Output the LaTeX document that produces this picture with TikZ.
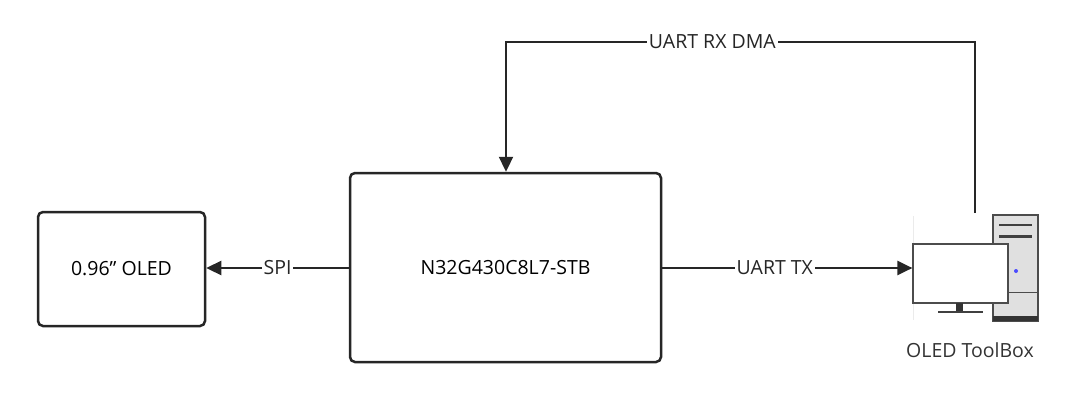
\documentclass[tikz,border=0pt]{standalone}
\usepackage{fontspec}
\setmainfont{Open Sans}
\usetikzlibrary{arrows.meta}
\begin{document}
\begin{tikzpicture}[x=1pt,y=-1pt,
  blk/.style={draw=black!85,line width=2.5pt,rounded corners=5pt,inner sep=0pt},
  conn/.style={draw=black!85,line width=2.3pt,-{Triangle[length=15pt,width=14pt]}},
  lbl/.style={fill=white,inner sep=2pt,font=\fontsize{19.5}{22}\selectfont,text=black!85}]
\useasboundingbox (0,0) rectangle (1080,405);
\node[blk,minimum width=167pt,minimum height=114pt,font=\fontsize{19.5}{22}\selectfont] (oled) at (121.5,269) {0.96\symbol{34} OLED};
\node[blk,minimum width=311pt,minimum height=189pt,font=\fontsize{19.5}{22}\selectfont] (mcu) at (505.5,267.5) {N32G430C8L7-STB};
% computer icon
\draw[fill=black!12,draw=black!70,line width=1.2pt] (993,215) rectangle (1038,321);
\fill[black!80] (993,316) rectangle (1038,321);
\draw[black!70,line width=1pt] (993,292) -- (1038,292);
\draw[black!75,line width=2pt] (999,225) -- (1032,225);
\draw[black!75,line width=3pt] (999,236) -- (1032,236);
\fill[blue!70] (1016,271) circle (2pt);
\draw[black!8,line width=0.6pt] (913,216) -- (913,320);
\node[draw=black!70,fill=white,line width=1.2pt,minimum width=95pt,minimum height=59pt,inner sep=0pt] (mon) at (960.5,273.5) {};
\fill[black!80] (956,303) rectangle (963,311);
\draw[black!75,line width=2pt] (938,312) -- (983,312);
\coordinate (tw) at (975,213);
\node[font=\fontsize{19.5}{22}\selectfont,text=black!80] (tb) at (970,350) {OLED ToolBox};
\draw[conn] (mcu.west |- 0,268) -- node[lbl]{SPI} (oled.east |- 0,268);
\draw[conn] (mcu.east |- 0,268) -- node[lbl,pos=0.45]{UART TX} (mon.west |- 0,268);
\draw[conn] (tw) -- (975,42) -- node[lbl,pos=0.56]{UART RX DMA} (506,42) -- (mcu.north -| 506,0);
\end{tikzpicture}
\end{document}
